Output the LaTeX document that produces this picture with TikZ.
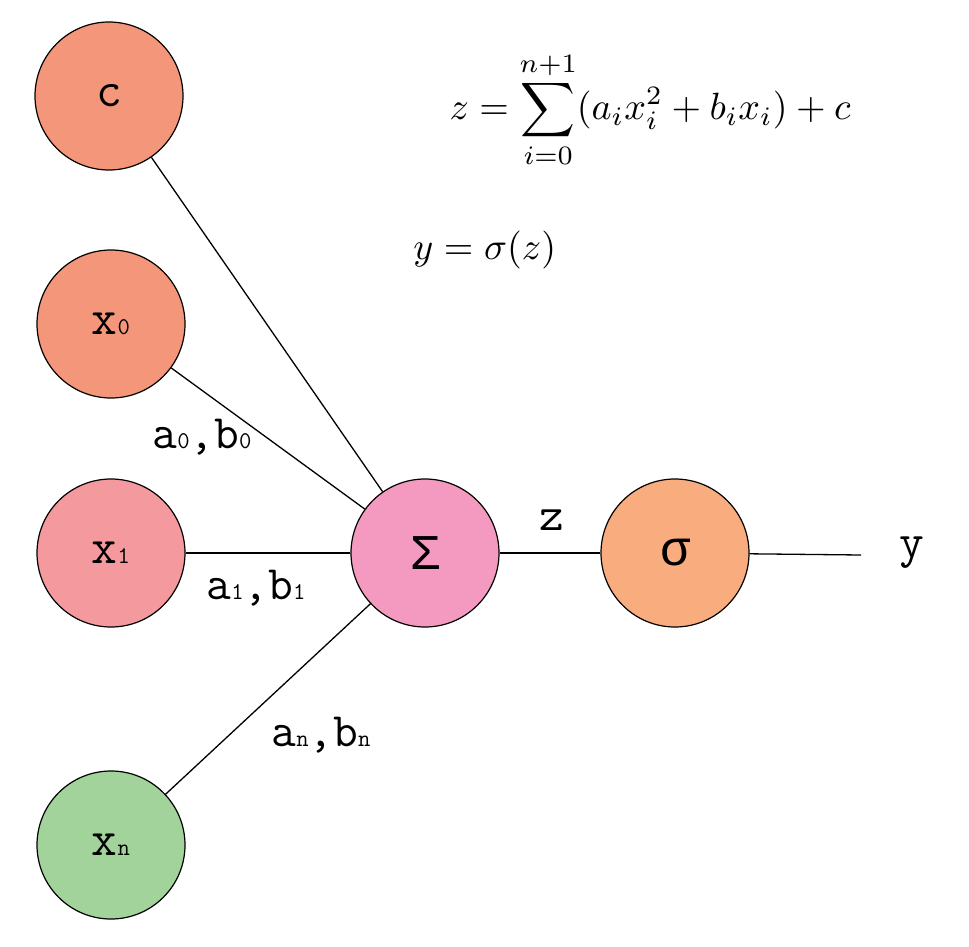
\documentclass[tikz,border=0pt]{standalone}
\usepackage{fontspec}
\newfontfamily\cour{Liberation Mono}
\begin{document}
\begin{tikzpicture}[x=1pt,y=-1pt,
  neuron/.style={circle,draw,line width=1.2pt,minimum size=148pt,inner sep=0pt,font=\ttfamily\fontsize{50}{54}\selectfont},
  lbl/.style={font=\ttfamily\fontsize{48}{54}\selectfont},
  formula/.style={scale=3.8,transform shape},
  conn/.style={line width=1.3pt}]
\definecolor{salmon}{HTML}{F4967A}
\definecolor{pinkred}{HTML}{F4999D}
\definecolor{green1}{HTML}{A2D39B}
\definecolor{pink1}{HTML}{F49AC1}
\definecolor{orange1}{HTML}{F9AD7F}
\newcommand{\sm}[1]{{\fontsize{24}{26}\selectfont #1}}
\fill[white] (0,0) rectangle (969,947);
\node[neuron,fill=salmon] (c) at (109,96) {c};
\node[neuron,fill=salmon] (x0) at (111,324) {x\sm{0}};
\node[neuron,fill=pinkred] (x1) at (111,553) {x\sm{1}};
\node[neuron,fill=green1] (xn) at (111,845) {x\sm{n}};
\node[neuron,fill=pink1] (s) at (425,553) {\cour Σ};
\node[neuron,fill=orange1] (sig) at (675,553) {\cour σ};
\coordinate (yend) at (861,555);
\node[lbl] (y) at (912,553) {y};
\draw[conn] (c) -- (s);
\draw[conn] (x0) -- (s);
\draw[conn] (x1) -- (s);
\draw[conn] (xn) -- (s);
\draw[conn] (s) -- (sig);
\draw[conn] (sig) -- (yend);
\node[lbl] (l0) at (202,437) {a\sm{0},b\sm{0}};
\node[lbl] (l1) at (256,588) {a\sm{1},b\sm{1}};
\node[lbl] (ln) at (321,735) {a\sm{n},b\sm{n}};
\node[lbl] (lz) at (552,520) {z};
\node[formula] (f1) at (650,110) {$\displaystyle z=\sum_{i=0}^{n+1}(a_ix_i^2+b_ix_i)+c$};
\node[formula,anchor=west] (f2) at (400,250) {$y=\sigma(z)$};
\end{tikzpicture}
\end{document}
